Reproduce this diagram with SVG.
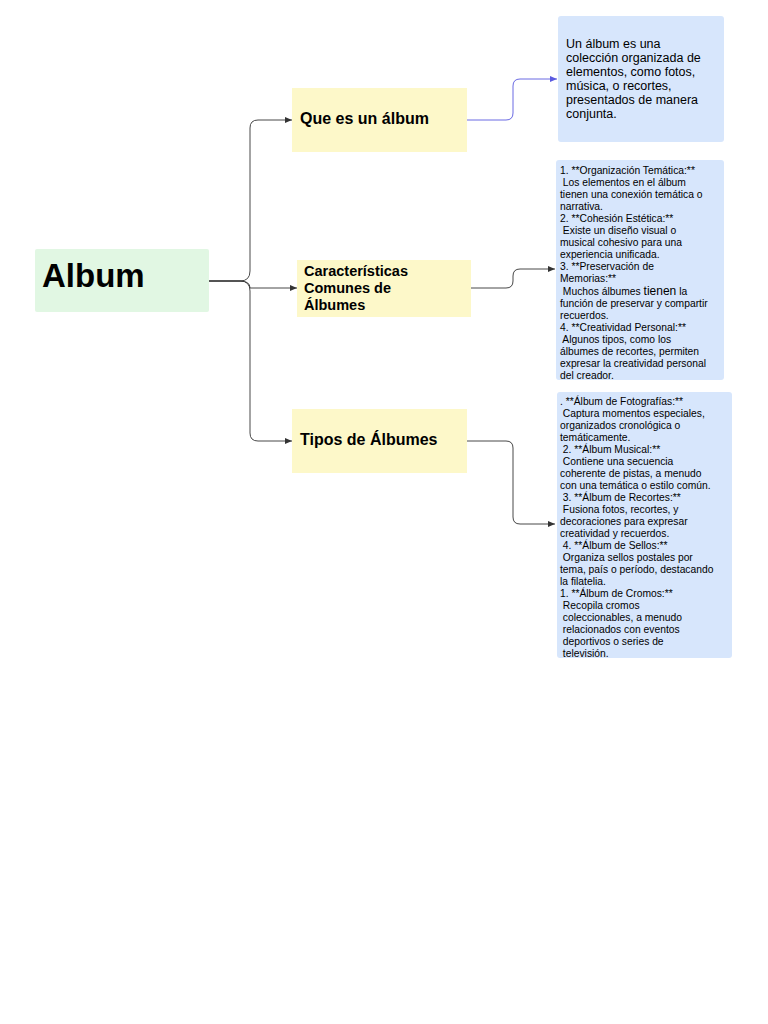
<svg xmlns="http://www.w3.org/2000/svg" width="768" height="1024" viewBox="0 0 768 1024">
<style>
text{font-family:"Liberation Sans",Arial,sans-serif;fill:#000}
.b{font-weight:bold;font-size:16px}
.s{font-size:10.3px}
.m{font-size:12.5px}
.c{fill:none;stroke:#333;stroke-width:0.9}
</style>
<defs><marker id="a" markerWidth="8" markerHeight="8" refX="7" refY="4" orient="auto" markerUnits="userSpaceOnUse"><path d="M0,1 L7,4 L0,7 z" fill="#333"/></marker>
<marker id="ab" markerWidth="8" markerHeight="8" refX="7" refY="4" orient="auto" markerUnits="userSpaceOnUse"><path d="M0,1 L7,4 L0,7 z" fill="#5a5ae0"/></marker></defs>
<rect width="768" height="1024" fill="#fff"/>
<g id="connectors">
<path class="c" d="M209,281 H240 Q250,281 250,271 V128 Q250,120 258,120 H292" marker-end="url(#a)"/>
<path class="c" d="M209,281 H240 Q250,281 250,288 H297" marker-end="url(#a)"/>
<path class="c" d="M209,281 H240 Q250,281 250,291 V433 Q250,441 258,441 H292" marker-end="url(#a)"/>
<path class="c" style="stroke:#5a5ae0" d="M467,120 H506 Q513,120 513,113 V86 Q513,79 520,79 H557" marker-end="url(#ab)"/>
<path class="c" d="M471,288 H506 Q513,288 513,281 V276 Q513,269 520,269 H555" marker-end="url(#a)"/>
<path class="c" d="M467,441 H506 Q513,441 513,448 V517 Q513,524 520,524 H555" marker-end="url(#a)"/>
</g>
<g id="album"><rect x="35" y="249" width="174" height="63" rx="2" fill="#e1f7e3"/><text x="42" y="287" style="font-size:33px;font-weight:bold">Album</text></g>
<g id="que"><rect x="292" y="88" width="175" height="64" fill="#fdf8c9"/><text class="b" x="300" y="124">Que es un álbum</text></g>
<g id="caract"><rect x="297" y="260" width="174" height="57" fill="#fdf8c9"/><text x="304" y="276" style="font-size:14.5px;font-weight:bold"><tspan x="304">Características</tspan><tspan x="304" dy="17">Comunes de</tspan><tspan x="304" dy="17">Álbumes</tspan></text></g>
<g id="tipos"><rect x="292" y="409" width="175" height="64" fill="#fdf8c9"/><text class="b" x="300" y="445">Tipos de Álbumes</text></g>
<g id="def"><rect x="558" y="16" width="166" height="126" rx="3" fill="#d7e6fc"/><text class="m" x="566" y="48"><tspan x="566">Un álbum es una</tspan><tspan x="566" dy="14">colección organizada de</tspan><tspan x="566" dy="14">elementos, como fotos,</tspan><tspan x="566" dy="14">música, o recortes,</tspan><tspan x="566" dy="14">presentados de manera</tspan><tspan x="566" dy="14">conjunta.</tspan></text></g>
<g id="caractText"><rect x="556" y="160" width="168" height="220" rx="3" fill="#d7e6fc"/><text class="s" x="560" y="174"><tspan x="560">1. **Organización Temática:**</tspan><tspan x="560" dy="12">  Los elementos en el álbum</tspan><tspan x="560" dy="12">tienen una conexión temática o</tspan><tspan x="560" dy="12">narrativa.</tspan><tspan x="560" dy="12">2. **Cohesión Estética:**</tspan><tspan x="560" dy="12">   Existe un diseño visual o</tspan><tspan x="560" dy="12">musical cohesivo para una</tspan><tspan x="560" dy="12">experiencia unificada.</tspan><tspan x="560" dy="12">3. **Preservación de</tspan><tspan x="560" dy="12">Memorias:**</tspan><tspan x="560" dy="13">  Muchos álbumes <tspan style="font-size:12px">tienen</tspan> la</tspan><tspan x="560" dy="12">función de preservar y compartir</tspan><tspan x="560" dy="12">recuerdos.</tspan><tspan x="560" dy="12">4. **Creatividad Personal:**</tspan><tspan x="560" dy="12">   Algunos tipos, como los</tspan><tspan x="560" dy="12">álbumes de recortes, permiten</tspan><tspan x="560" dy="12">expresar la creatividad  personal</tspan><tspan x="560" dy="12">del creador.</tspan></text></g>
<g id="tiposText"><rect x="557" y="392" width="175" height="266" rx="3" fill="#d7e6fc"/><text class="s" x="560" y="405"><tspan x="560">. **Álbum de Fotografías:**</tspan><tspan x="560" dy="12">  Captura momentos especiales,</tspan><tspan x="560" dy="12">organizados cronológica o</tspan><tspan x="560" dy="12">temáticamente.</tspan><tspan x="560" dy="12">  2. **Álbum Musical:**</tspan><tspan x="560" dy="12">  Contiene una secuencia</tspan><tspan x="560" dy="12">coherente de pistas, a menudo</tspan><tspan x="560" dy="12">con una temática o estilo común.</tspan><tspan x="560" dy="12">  3. **Álbum de Recortes:**</tspan><tspan x="560" dy="12">   Fusiona fotos, recortes, y</tspan><tspan x="560" dy="12">decoraciones para expresar</tspan><tspan x="560" dy="12">creatividad y recuerdos.</tspan><tspan x="560" dy="12">  4. **Álbum de Sellos:**</tspan><tspan x="560" dy="12">  Organiza sellos postales por</tspan><tspan x="560" dy="12">tema, país o período, destacando</tspan><tspan x="560" dy="12">la filatelia.</tspan><tspan x="560" dy="12">1. **Álbum de Cromos:**</tspan><tspan x="560" dy="12">    Recopila cromos</tspan><tspan x="560" dy="12">  coleccionables, a menudo</tspan><tspan x="560" dy="12">  relacionados con eventos</tspan><tspan x="560" dy="12">  deportivos o  series de</tspan><tspan x="560" dy="12">  televisión.</tspan></text></g>
</svg>
